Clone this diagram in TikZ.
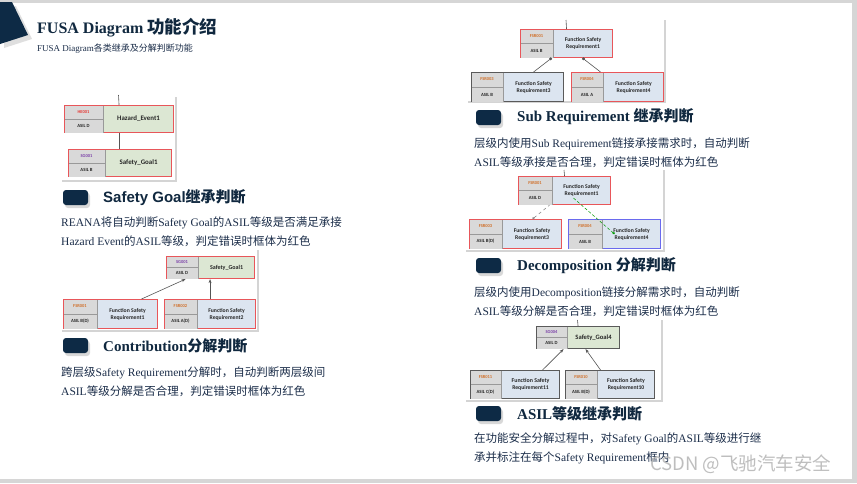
\documentclass[tikz,border=0pt]{standalone}
\usepackage{fontspec}
\setmainfont{Liberation Serif}
\newfontfamily\zhfont{Noto Sans CJK SC}
\newfontfamily\boxfont{Carlito}
\newfontfamily\headsans{Liberation Sans}
\usetikzlibrary{calc}
\usetikzlibrary{arrows.meta}
\usetikzlibrary{shadows}

\definecolor{navy}{HTML}{0D2A45}
\definecolor{headnavy}{HTML}{10283F}
\definecolor{textnavy}{HTML}{1C2E4A}
\definecolor{boxred}{HTML}{E8565A}
\definecolor{boxgray}{HTML}{5A5A5A}
\definecolor{boxblue}{HTML}{6A6AEE}
\definecolor{cellgray}{HTML}{D9D9D9}
\definecolor{goalgreen}{HTML}{DCE7D3}
\definecolor{reqblue}{HTML}{DCE5F0}
\definecolor{idred}{HTML}{E53935}
\definecolor{idpurple}{HTML}{7A3FA8}
\definecolor{idorange}{HTML}{D0702A}
\definecolor{linkgray}{HTML}{555555}

\newcommand{\zh}[1]{{\zhfont #1}}

\tikzset{
  elem/.style={rectangle, inner sep=0pt, line width=1.1pt},
  boxsize/.style 2 args={minimum width=#1pt, minimum height=#2pt},
  redline/.style={draw=boxred},
  grayline/.style={draw=boxgray},
  blueline/.style={draw=boxblue},
  goal/.style={fill=goalgreen},
  req/.style={fill=reqblue},
  cellline/.style={draw=black!40, line width=0.5pt},
  idtext/.style={font=\boxfont\bfseries\fontsize{4.5}{5}\selectfont},
  asiltext/.style={font=\boxfont\bfseries\fontsize{4.7}{5}\selectfont, text=black!85},
  titletext/.style={font=\boxfont\bfseries\fontsize{5.7}{7}\selectfont, align=center, text=black!85},
  link/.style={draw=linkgray, line width=0.6pt},
  arrow/.style={link, -{Stealth[length=4pt, width=3pt]}},
  sublink/.style={link, -{Square[length=2.2pt, width=2.2pt]}},
  declink/.style={link, dashed, draw=black!45, {Circle[length=2.4pt]}-},
  greenlink/.style={draw=green!60!black, line width=0.5pt, densely dashed, -{Circle[length=2.4pt]}},
  shotedge/.style={draw=black!17, line width=1.4pt},
  icon/.style={fill=navy, rounded corners=3pt, minimum width=25pt, minimum height=15pt,
    drop shadow={shadow xshift=2pt, shadow yshift=-3pt, opacity=0.3}},
  heading/.style={anchor=west, text=headnavy, font=\bfseries\fontsize{15}{18}\selectfont},
  bodytext/.style={anchor=west, align=left, text=textnavy, font=\fontsize{11.5}{19}\selectfont},
}

% #1 options, #2 name, #3 top left, #4 left cell width, #5 id, #6 asil, #7 title
\newcommand{\elem}[7][]{%
  \node[elem, anchor=north west, #1] (#2) at (#3) {};
  \fill[cellgray] ([shift={(0.55pt,-0.55pt)}]#2.north west) rectangle ([xshift=#4pt, yshift=0.55pt]#2.south west);
  \draw[cellline] ([xshift=#4pt, yshift=-0.55pt]#2.north west) -- ([xshift=#4pt, yshift=0.55pt]#2.south west);
  \draw[cellline] ([xshift=0.55pt]#2.west) -- ([xshift=#4pt]#2.west);
  \node[idtext] (#2-id) at ($(#2.north west)!0.5!([xshift=#4pt]#2.west)$) {#5};
  \node[asiltext] (#2-asil) at ($(#2.west)!0.5!([xshift=#4pt]#2.south west)$) {#6};
  \node[titletext] (#2-txt) at ($([xshift=#4pt]#2.north west)!0.5!(#2.south east)$) {#7};
}

\begin{document}
\begin{tikzpicture}[x=1pt, y=-1pt, every node/.style={inner sep=0pt}]
\useasboundingbox (0,0) rectangle (857,483);
\fill[black!16] (0,0) rectangle (857,483);
\fill[white] (0,3) rectangle (852,479);

% title corner
\fill[navy, drop shadow={shadow xshift=4pt, shadow yshift=-4pt, opacity=0.25}] (0,2) -- (12,2) -- (28,35) -- (0,44) -- cycle;
\node[anchor=base west, text=headnavy, font=\bfseries\fontsize{16}{18}\selectfont] (title) at (37,33.5)
  {FUSA Diagram \zh{\fontsize{17.5}{18}\selectfont 功能介绍}};
\node[anchor=base west, text=textnavy, font=\fontsize{9}{10}\selectfont] (subtitle) at (37,51.5)
  {FUSA Diagram\zh{各类继承及分解判断功能}};

% Safety Goal
\draw[shotedge] (62,181) -- (176,181) -- (176,97);
\coordinate (top1) at (118.5,95);
\elem[redline, goal, boxsize={109}{27}]{he}{64,105}{39}{\textcolor{idred}{HE001}}{ASIL D}{\fontsize{6.9}{8}\selectfont Hazard\_Event1}
\elem[redline, goal, boxsize={103}{27}]{sgA}{68,149}{37}{\textcolor{idpurple}{SG001}}{ASIL B}{\fontsize{6.9}{8}\selectfont Safety\_Goal1}
\draw[link] (top1) -- (he.north);
\draw[link] (he.south) -- (he.south |- sgA.north);

\node[icon] (icon1) at (75.5,197.5) {};
\node[heading] (head1) at (103,198) {{\headsans Safety Goal}\zh{继承判断}};
\node[bodytext] (body1) at (61,232) {REANA\zh{将自动判断}Safety Goal\zh{的}ASIL\zh{等级是否满足承接}\\
  Hazard Event\zh{的}ASIL\zh{等级，判定错误时框体为红色}};

% Contribution
\draw[shotedge] (62,331) -- (258,331) -- (258,250);
\elem[redline, goal, boxsize={88}{22}]{sgB}{166,256}{32}{\textcolor{idpurple}{SG001}}{ASIL D}{\fontsize{6}{7}\selectfont Safety\_Goal1}
\elem[redline, req, boxsize={94}{29}]{fsrB1}{63,299}{34}{\textcolor{idorange}{FSR001}}{ASIL B(D)}{Function Safety\\Requirement1}
\elem[redline, req, boxsize={91}{29}]{fsrB2}{164,299}{33}{\textcolor{idorange}{FSR002}}{ASIL A(D)}{Function Safety\\Requirement2}
\draw[arrow] ([xshift=31pt]fsrB1.north) -- ([xshift=-25pt]sgB.south);
\draw[arrow] (fsrB2.north) -- (fsrB2.north |- sgB.south);

\node[icon] (icon2) at (75.5,345.5) {};
\node[heading] (head2) at (103,346) {Contribution\zh{分解判断}};
\node[bodytext] (body2) at (61,382) {\zh{跨层级}Safety Requirement\zh{分解时，自动判断两层级间}\\
  ASIL\zh{等级分解是否合理，判定错误时框体为红色}};

% Sub Requirement
\draw[shotedge] (468,102) -- (665,102) -- (665,20);
\coordinate (top3) at (566,20);
\elem[redline, req, boxsize={92}{28}]{subR1}{520,29}{33}{\textcolor{idorange}{FSR001}}{ASIL B}{Function Safety\\Requirement1}
\elem[grayline, req, boxsize={92}{29}]{subR3}{471,72}{32}{\textcolor{idorange}{FSR003}}{ASIL B}{Function Safety\\Requirement3}
\elem[redline, req, boxsize={92}{29}]{subR4}{571,72}{32}{\textcolor{idorange}{FSR004}}{ASIL A}{Function Safety\\Requirement4}
\draw[link] (top3) -- (subR1.north);
\draw[sublink] ([xshift=16pt]subR3.north) -- ([xshift=-15pt]subR1.south);
\draw[sublink] ([xshift=-17pt]subR4.north) -- ([xshift=16pt]subR1.south);

\node[icon] (icon3) at (488.5,117.5) {};
\node[heading] (head3) at (517,117) {Sub Requirement \zh{继承判断}};
\node[bodytext] (body3) at (474,152.5) {\zh{层级内使用}Sub Requirement\zh{链接承接需求时，自动判断}\\
  ASIL\zh{等级承接是否合理，判定错误时框体为红色}};

% Decomposition
\draw[shotedge] (466,251) -- (664,251) -- (664,170);
\coordinate (top4) at (564,170);
\elem[redline, req, boxsize={92}{28}]{decR1}{518,176}{34}{\textcolor{idorange}{FSR001}}{ASIL D}{Function Safety\\Requirement1}
\elem[redline, req, boxsize={92}{29}]{decR3}{469,219}{33}{\textcolor{idorange}{FSR003}}{ASIL B(D)}{Function Safety\\Requirement3}
\elem[blueline, req, boxsize={92}{29}]{decR4}{568,219}{34}{\textcolor{idorange}{FSR004}}{ASIL B}{Function Safety\\Requirement4}
\draw[link] (top4) -- (decR1.north);
\draw[declink] ([xshift=17pt]decR3.north) -- ([xshift=-15pt]decR1.south);
\draw[greenlink] ([shift={(9pt,7pt)}]decR1.south) -- (decR4.center);

\node[icon] (icon4) at (488.5,265.5) {};
\node[heading] (head4) at (517,266) {Decomposition \zh{分解判断}};
\node[bodytext] (body4) at (474,301.5) {\zh{层级内使用}Decomposition\zh{链接分解需求时，自动判断}\\
  ASIL\zh{等级分解是否合理，判定错误时框体为红色}};

% ASIL
\draw[shotedge] (466,401) -- (662,401) -- (662,320);
\coordinate (top5) at (577.5,320);
\elem[grayline, goal, boxsize={83}{22}]{asG4}{536,326}{31}{\textcolor{idpurple}{SG004}}{ASIL D}{\fontsize{6.6}{8}\selectfont Safety\_Goal4}
\elem[grayline, req, boxsize={89}{28}]{asR11}{470,370}{31}{\textcolor{idorange}{FSR011}}{ASIL C(D)}{\fontsize{5.9}{7.2}\selectfont Function Safety\\Requirement11}
\elem[grayline, req, boxsize={89}{28}]{asR10}{565,370}{32}{\textcolor{idorange}{FSR010}}{ASIL B(D)}{\fontsize{5.9}{7.2}\selectfont Function Safety\\Requirement10}
\draw[link] (top5) -- (asG4.north);
\draw[arrow] ([xshift=27.5pt]asR11.north) -- ([xshift=-14.5pt]asG4.south);
\draw[arrow] ([xshift=-9.5pt]asR10.north) -- ([xshift=7.5pt]asG4.south);

\node[icon] (icon5) at (488.5,413.5) {};
\node[heading] (head5) at (517,414) {ASIL\zh{等级继承判断}};
\node[bodytext] (body5) at (474,448) {\zh{在功能安全分解过程中，对}Safety Goal\zh{的}ASIL\zh{等级进行继}\\
  \zh{承并标注在每个}Safety Requirement\zh{框内}};

% watermark
\node[anchor=west, text=black!28, opacity=0.9, font=\zhfont\fontsize{18.5}{20}\selectfont] (mark) at (650,464) {CSDN @飞驰汽车安全};
\end{tikzpicture}
\end{document}
